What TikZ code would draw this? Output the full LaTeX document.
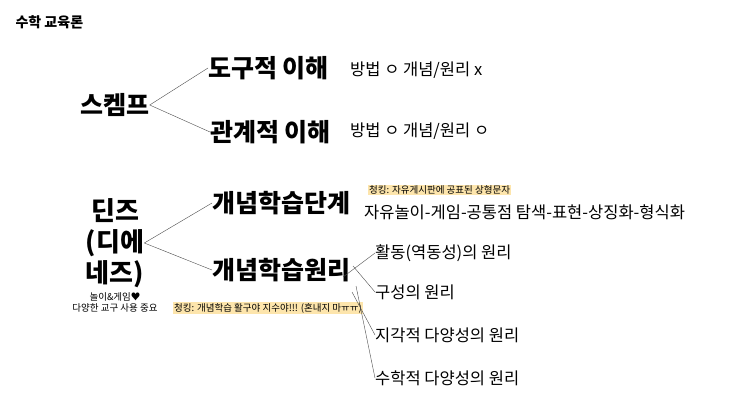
\documentclass[tikz,border=0pt]{standalone}
\usepackage{fontspec}
\setmainfont{Noto Sans CJK KR}
\usetikzlibrary{positioning}
\begin{document}
\begin{tikzpicture}
		[x=1pt,y=-1pt,
		big/.style ={anchor=west, inner sep=0pt, font=\bfseries\fontsize{25}{27}\selectfont},
		small/.style ={anchor=west, inner sep=0pt, font=\fontsize{16.5}{18}\selectfont},
		note/.style ={anchor=west, inner sep=1pt, fill=yellow!40!orange!30, font=\fontsize{9.5}{11}\selectfont},
		line/.style ={draw=black!70, thin},
		]
		\useasboundingbox (0,0) rectangle (743,418);

		\node[anchor=west, font=\bfseries\fontsize{14}{16}\selectfont] (T) at (12,22) {수학 교육론};

		% skemp
		\node[big, anchor=center] (S) at (115,105) {스켐프};
		\node[big] (S1) at (208,68) {도구적 이해};
		\node[big] (S2) at (210,132) {관계적 이해};
		\node[small] (S1t) at (350,70) {방법 ㅇ 개념/원리 x};
		\node[small] (S2t) at (350,131) {방법 ㅇ 개념/원리 ㅇ};
		\draw[line] (S.east) -- (S1.west);
		\draw[line] (S.east) -- (S2.west);

		% dienes
		\node[big, anchor=center, align=center, font=\bfseries\fontsize{26}{31}\selectfont] (D) at (115,243) {딘즈\\(디에\\네즈)};
		\node[anchor=center, align=center, inner sep=0pt, font=\fontsize{9.5}{11}\selectfont] (Dn) at (115,302) {놀이\&게임♥\\다양한 교구 사용 중요};
		\node[big] (D1) at (212,203) {개념학습단계};
		\node[big] (D2) at (212,270) {개념학습원리};
		\draw[line] (D.east) -- (D1.west);
		\draw[line] (D.east) -- (D2.west);

		\node[note] (N1) at (368,190) {청킹: 자유게시판에 공표된 상형문자};
		\node[small] (D1t) at (364,212) {자유놀이-게임-공통점 탐색-표현-상징화-형식화};
		\node[note] (N2) at (173,308) {청킹: 개념학습 활구야 지수야!!! (혼내지 마ㅠㅠ)};

		\node[small] (P1) at (375,253) {활동(역동성)의 원리};
		\node[small] (P2) at (375,292) {구성의 원리};
		\node[small] (P3) at (375,335) {지각적 다양성의 원리};
		\node[small] (P4) at (375,378) {수학적 다양성의 원리};
		\coordinate (c1) at (343,277);
		\coordinate (c2) at (353,266);
		\coordinate (c3) at (352,292);
		\coordinate (c4) at (356,286);
		\draw[line] (c1) -- (P1.west);
		\draw[line] (c2) -- (P2.west);
		\draw[line] (c3) -- (P3.west);
		\draw[line] (c4) -- (P4.west);
	\end{tikzpicture}
\end{document}
